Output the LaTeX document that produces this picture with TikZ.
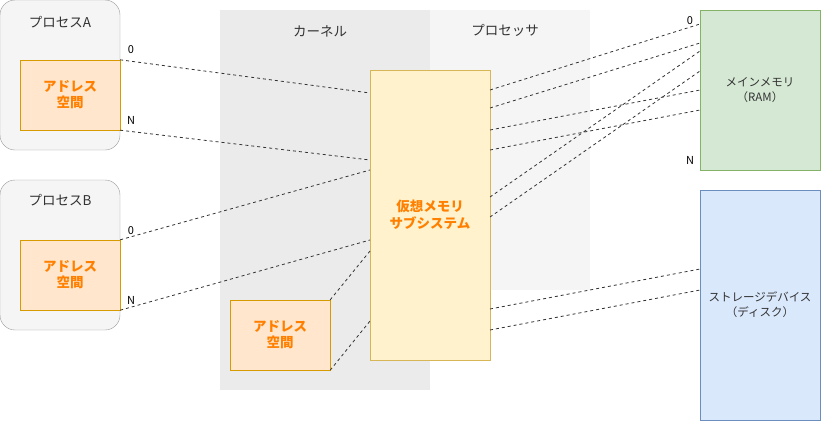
\documentclass[tikz,border=0pt]{standalone}
\usepackage{fontspec}
\setmainfont{Noto Sans CJK JP}
\definecolor{labelgray}{HTML}{333333}
\definecolor{procfill}{HTML}{F5F5F5}
\definecolor{procdraw}{HTML}{999999}
\definecolor{kernfill}{HTML}{EBEBEB}
\definecolor{addrfill}{HTML}{FFE6CC}
\definecolor{addrdraw}{HTML}{D79B00}
\definecolor{addrtext}{HTML}{FF8000}
\definecolor{vmfill}{HTML}{FFF2CC}
\definecolor{vmdraw}{HTML}{D6B656}
\definecolor{ramfill}{HTML}{D5E8D4}
\definecolor{ramdraw}{HTML}{82B366}
\definecolor{diskfill}{HTML}{DAE8FC}
\definecolor{diskdraw}{HTML}{6C8EBF}
\begin{document}
\begin{tikzpicture}[x=1pt, y=-1pt,
	proc/.style={draw=procdraw, fill=procfill, rounded corners=15pt, minimum width=120pt, minimum height=150pt},
	addr/.style={draw=addrdraw, fill=addrfill, text=addrtext, align=center, font=\fontsize{13.5}{16}\selectfont\bfseries, minimum width=100pt, minimum height=70pt},
	lbl/.style={text=labelgray, font=\fontsize{13.5}{16}\selectfont},
	idx/.style={text=black, font=\fontsize{11}{13}\selectfont, inner sep=0pt},
	dev/.style={align=center, text=labelgray, font=\fontsize{11.5}{15}\selectfont, minimum width=120pt},
	link/.style={draw=labelgray, line width=0.8pt, dash pattern=on 3pt off 3pt}]
				\useasboundingbox (0,0) rectangle (821,421);
				\fill[kernfill] (220,10) rectangle (430,390);
				\fill[procfill] (430,10) rectangle (590,290);
				\node[lbl] (K) at (320,31) {カーネル};
				\node[lbl] (P) at (505,30) {プロセッサ};
				\node[proc] (PA) at (60,75) {};
				\node[proc] (PB) at (60,255) {};
				\node[lbl] (LA) at (60,22) {プロセスA};
				\node[lbl] (LB) at (60,200) {プロセスB};
				\node[addr] (AA) at (70,95) {アドレス\\空間};
				\node[addr] (AB) at (70,275) {アドレス\\空間};
				\node[addr] (AK) at (280,335) {アドレス\\空間};
				\node[draw=vmdraw, fill=vmfill, minimum width=120pt, minimum height=290pt] (VM) at (430,215) {};
				\node[text=addrtext, align=center, font=\fontsize{13.5}{17}\selectfont\bfseries] (VT) at (430,215) {仮想メモリ\\サブシステム};
				\node[draw=ramdraw, fill=ramfill, minimum width=120pt, minimum height=160pt] (RAM) at (760,90) {};
				\node[draw=diskdraw, fill=diskfill, minimum width=120pt, minimum height=230pt] (D) at (760,305) {};
				\node[dev] (RT) at (760,90) {メインメモリ\\（RAM）};
				\node[dev] (DT) at (760,305) {ストレージデバイス\\（ディスク）};
				\node[idx] (A0) at (131,50) {0};
				\node[idx] (AN) at (131,120) {N};
				\node[idx] (B0) at (131,231) {0};
				\node[idx] (BN) at (131,300) {N};
				\node[idx] (R0) at (690,21) {0};
				\node[idx] (RN) at (690,160) {N};
				\coordinate (V1) at (370,93);
				\coordinate (V2) at (370,160);
				\coordinate (V3) at (370,170);
				\coordinate (V4) at (370,240);
				\coordinate (V5) at (370,251);
				\coordinate (V6) at (370,321);
				\coordinate (W1) at (490,90);
				\coordinate (W2) at (490,108);
				\coordinate (W3) at (490,130);
				\coordinate (W4) at (490,150);
				\coordinate (W5) at (490,197);
				\coordinate (W6) at (490,217);
				\coordinate (W7) at (490,309);
				\coordinate (W8) at (490,330);
				\coordinate (M1) at (700,24);
				\coordinate (M2) at (700,43);
				\coordinate (M3) at (700,90);
				\coordinate (M4) at (700,110);
				\coordinate (M5) at (700,51);
				\coordinate (M6) at (700,71);
				\coordinate (S1) at (700,269);
				\coordinate (S2) at (700,290);
				\draw[link] (AA.north east) -- (V1);
				\draw[link] (AA.south east) -- (V2);
				\draw[link] (AB.north east) -- (V3);
				\draw[link] (AB.south east) -- (V4);
				\draw[link] (AK.north east) -- (V5);
				\draw[link] (AK.south east) -- (V6);
				\draw[link] (W1) -- (M1);
				\draw[link] (W2) -- (M2);
				\draw[link] (W3) -- (M3);
				\draw[link] (W4) -- (M4);
				\draw[link] (W5) -- (M5);
				\draw[link] (W6) -- (M6);
				\draw[link] (W7) -- (S1);
				\draw[link] (W8) -- (S2);
			\end{tikzpicture}
\end{document}
